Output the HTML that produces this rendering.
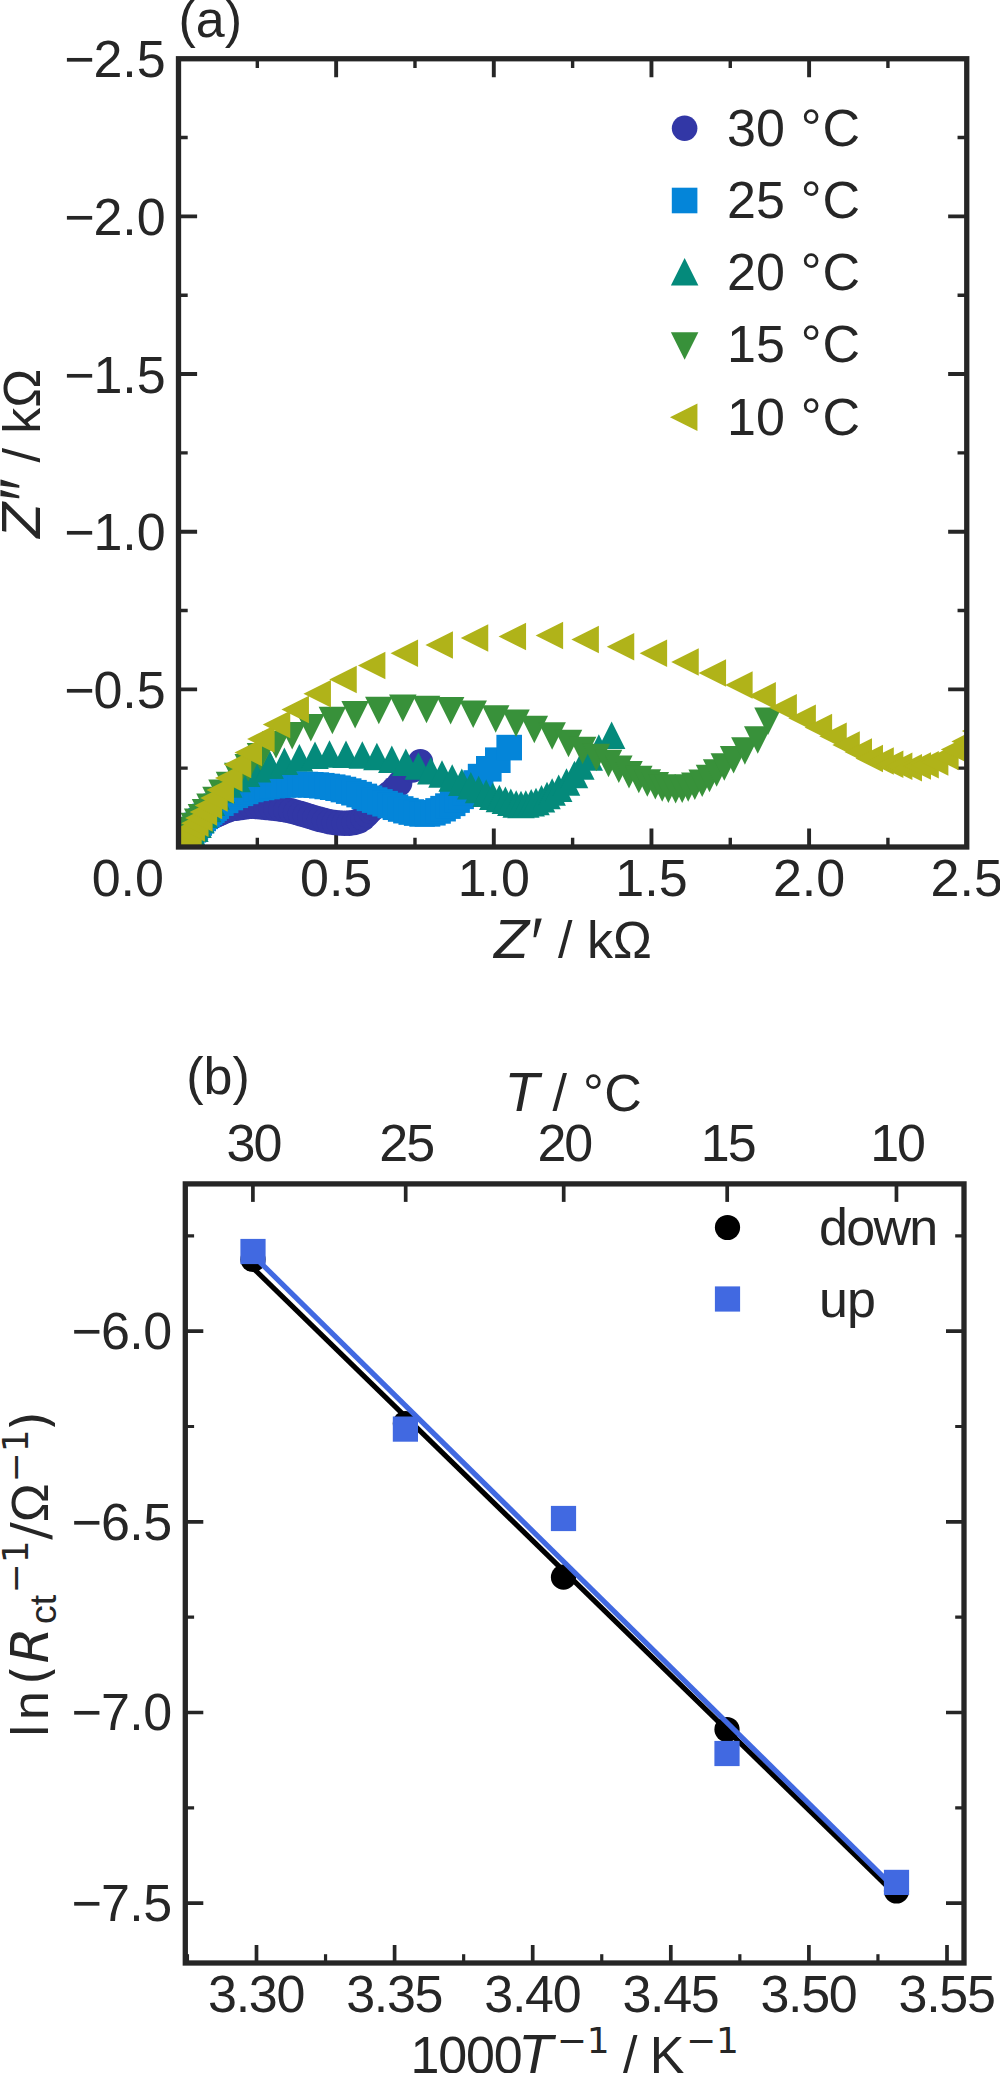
<!DOCTYPE html>
<html lang="en"><head><meta charset="utf-8"><title>Figure: Nyquist plots and Arrhenius plot</title>
<style>html,body{margin:0;padding:0;background:#fff}body{width:1000px;height:2073px;overflow:hidden}svg{display:block}text{font-family:"Liberation Sans", sans-serif;fill:#262626}.i{font-family:"DejaVu Sans","Liberation Sans",sans-serif;font-style:italic}.pr{font-style:italic;stroke:#fff;stroke-width:1.3px}</style></head><body>
<svg width="1000" height="2073" viewBox="0 0 1000 2073">
<rect width="1000" height="2073" fill="#fff"/>
<defs><clipPath id="ca"><rect x="178.5" y="58.75" width="788.25" height="788.25"/></clipPath></defs>
<g id="panel-a">
<g stroke="#262626" fill="none" stroke-linecap="butt"><path d="M257.32 847V837.8M257.32 58.75V67.95M178.5 768.17H187.7M966.75 768.17H957.55" stroke-width="3.4"/><path d="M336.15 847V828.4M336.15 58.75V77.35M178.5 689.35H197.1M966.75 689.35H948.15" stroke-width="3.9"/><path d="M414.98 847V837.8M414.98 58.75V67.95M178.5 610.52H187.7M966.75 610.52H957.55" stroke-width="3.4"/><path d="M493.8 847V828.4M493.8 58.75V77.35M178.5 531.7H197.1M966.75 531.7H948.15" stroke-width="3.9"/><path d="M572.62 847V837.8M572.62 58.75V67.95M178.5 452.88H187.7M966.75 452.88H957.55" stroke-width="3.4"/><path d="M651.45 847V828.4M651.45 58.75V77.35M178.5 374.05H197.1M966.75 374.05H948.15" stroke-width="3.9"/><path d="M730.27 847V837.8M730.27 58.75V67.95M178.5 295.23H187.7M966.75 295.23H957.55" stroke-width="3.4"/><path d="M809.1 847V828.4M809.1 58.75V77.35M178.5 216.4H197.1M966.75 216.4H948.15" stroke-width="3.9"/><path d="M887.93 847V837.8M887.93 58.75V67.95M178.5 137.57H187.7M966.75 137.57H957.55" stroke-width="3.4"/></g>
<g clip-path="url(#ca)"><g fill="#3237a6"><circle cx="179" cy="852" r="12.8"/><circle cx="180.72" cy="849.54" r="12.8"/><circle cx="182.44" cy="847.08" r="12.8"/><circle cx="184.16" cy="844.63" r="12.8"/><circle cx="185.88" cy="842.17" r="12.8"/><circle cx="187.6" cy="839.71" r="12.8"/><circle cx="189.32" cy="837.25" r="12.8"/><circle cx="191.04" cy="834.8" r="12.8"/><circle cx="192.76" cy="832.34" r="12.8"/><circle cx="194.97" cy="830.32" r="12.8"/><circle cx="197.25" cy="828.37" r="12.8"/><circle cx="199.53" cy="826.43" r="12.8"/><circle cx="201.82" cy="824.48" r="12.8"/><circle cx="204.1" cy="822.53" r="12.8"/><circle cx="206.38" cy="820.59" r="12.8"/><circle cx="208.66" cy="818.64" r="12.8"/><circle cx="211.14" cy="817.01" r="12.8"/><circle cx="213.9" cy="815.84" r="12.8"/><circle cx="216.67" cy="814.67" r="12.8"/><circle cx="219.43" cy="813.49" r="12.8"/><circle cx="222.19" cy="812.32" r="12.8"/><circle cx="226.79" cy="810.36" r="12.8"/><circle cx="231.5" cy="808.8" r="12.8"/><circle cx="236.45" cy="808.14" r="12.8"/><circle cx="241.41" cy="807.48" r="12.8"/><circle cx="246.37" cy="806.82" r="12.8"/><circle cx="251.32" cy="806.16" r="12.8"/><circle cx="256.29" cy="806.37" r="12.8"/><circle cx="261.27" cy="806.86" r="12.8"/><circle cx="266.25" cy="807.34" r="12.8"/><circle cx="271.22" cy="807.83" r="12.8"/><circle cx="276.19" cy="808.39" r="12.8"/><circle cx="281.13" cy="809.18" r="12.8"/><circle cx="286.06" cy="809.97" r="12.8"/><circle cx="290.98" cy="810.88" r="12.8"/><circle cx="295.78" cy="812.25" r="12.8"/><circle cx="300.59" cy="813.63" r="12.8"/><circle cx="305.39" cy="815.03" r="12.8"/><circle cx="310.17" cy="816.49" r="12.8"/><circle cx="314.95" cy="817.95" r="12.8"/><circle cx="319.73" cy="819.42" r="12.8"/><circle cx="324.6" cy="820.57" r="12.8"/><circle cx="329.47" cy="821.7" r="12.8"/><circle cx="334.4" cy="822.47" r="12.8"/><circle cx="339.37" cy="822.95" r="12.8"/><circle cx="344.36" cy="823.25" r="12.8"/><circle cx="349.35" cy="823.09" r="12.8"/><circle cx="354.28" cy="822.43" r="12.8"/><circle cx="358.97" cy="820.85" r="12.8"/><circle cx="363.13" cy="818.08" r="12.8"/><circle cx="366.74" cy="814.65" r="12.8"/><circle cx="370.21" cy="811.04" r="12.8"/><circle cx="373.07" cy="808.26" r="12.8"/><circle cx="376.37" cy="805.22" r="12.8"/><circle cx="380.05" cy="801.81" r="12.8"/><circle cx="384.18" cy="798" r="12.8"/><circle cx="388.81" cy="793.73" r="12.8"/><circle cx="393.99" cy="788.95" r="12.8"/><circle cx="399.53" cy="783.33" r="12.8"/><circle cx="412.6" cy="769.9" r="12.8"/><circle cx="420.4" cy="761.8" r="12.8"/></g><g fill="#0485d9"><rect x="165.2" y="839.2" width="25.6" height="25.6"/><rect x="166.88" y="836.71" width="25.6" height="25.6"/><rect x="168.56" y="834.23" width="25.6" height="25.6"/><rect x="170.24" y="831.74" width="25.6" height="25.6"/><rect x="171.91" y="829.25" width="25.6" height="25.6"/><rect x="173.59" y="826.77" width="25.6" height="25.6"/><rect x="175.27" y="824.28" width="25.6" height="25.6"/><rect x="176.95" y="821.79" width="25.6" height="25.6"/><rect x="178.63" y="819.31" width="25.6" height="25.6"/><rect x="180.57" y="817.03" width="25.6" height="25.6"/><rect x="182.53" y="814.75" width="25.6" height="25.6"/><rect x="184.49" y="812.48" width="25.6" height="25.6"/><rect x="186.45" y="810.21" width="25.6" height="25.6"/><rect x="188.41" y="807.94" width="25.6" height="25.6"/><rect x="190.37" y="805.66" width="25.6" height="25.6"/><rect x="192.47" y="803.53" width="25.6" height="25.6"/><rect x="194.67" y="801.49" width="25.6" height="25.6"/><rect x="196.88" y="799.46" width="25.6" height="25.6"/><rect x="199.08" y="797.42" width="25.6" height="25.6"/><rect x="201.29" y="795.39" width="25.6" height="25.6"/><rect x="203.49" y="793.36" width="25.6" height="25.6"/><rect x="208.09" y="790.37" width="25.6" height="25.6"/><rect x="212.8" y="787.54" width="25.6" height="25.6"/><rect x="217.52" y="784.71" width="25.6" height="25.6"/><rect x="222.52" y="782.46" width="25.6" height="25.6"/><rect x="227.67" y="780.53" width="25.6" height="25.6"/><rect x="232.82" y="778.59" width="25.6" height="25.6"/><rect x="237.97" y="776.66" width="25.6" height="25.6"/><rect x="243.33" y="775.52" width="25.6" height="25.6"/><rect x="248.75" y="774.62" width="25.6" height="25.6"/><rect x="254.18" y="773.73" width="25.6" height="25.6"/><rect x="259.6" y="772.83" width="25.6" height="25.6"/><rect x="265.07" y="772.28" width="25.6" height="25.6"/><rect x="270.56" y="772.06" width="25.6" height="25.6"/><rect x="276.06" y="771.84" width="25.6" height="25.6"/><rect x="281.55" y="771.61" width="25.6" height="25.6"/><rect x="287.05" y="771.41" width="25.6" height="25.6"/><rect x="292.54" y="771.71" width="25.6" height="25.6"/><rect x="298.03" y="772.01" width="25.6" height="25.6"/><rect x="303.52" y="772.31" width="25.6" height="25.6"/><rect x="308.99" y="772.92" width="25.6" height="25.6"/><rect x="314.44" y="773.66" width="25.6" height="25.6"/><rect x="319.89" y="774.4" width="25.6" height="25.6"/><rect x="325.28" y="775.42" width="25.6" height="25.6"/><rect x="330.62" y="776.75" width="25.6" height="25.6"/><rect x="335.89" y="778.31" width="25.6" height="25.6"/><rect x="341.15" y="779.92" width="25.6" height="25.6"/><rect x="346.33" y="781.77" width="25.6" height="25.6"/><rect x="351.5" y="783.64" width="25.6" height="25.6"/><rect x="356.67" y="785.52" width="25.6" height="25.6"/><rect x="361.87" y="787.32" width="25.6" height="25.6"/><rect x="367.07" y="789.1" width="25.6" height="25.6"/><rect x="372.28" y="790.88" width="25.6" height="25.6"/><rect x="377.48" y="792.66" width="25.6" height="25.6"/><rect x="382.69" y="794.43" width="25.6" height="25.6"/><rect x="387.9" y="796.19" width="25.6" height="25.6"/><rect x="393.14" y="797.85" width="25.6" height="25.6"/><rect x="398.46" y="799.24" width="25.6" height="25.6"/><rect x="403.86" y="800.28" width="25.6" height="25.6"/><rect x="409.29" y="801.14" width="25.6" height="25.6"/><rect x="414.7" y="801.08" width="25.6" height="25.6"/><rect x="420.08" y="799.95" width="25.6" height="25.6"/><rect x="425.24" y="798.13" width="25.6" height="25.6"/><rect x="430.26" y="795.87" width="25.6" height="25.6"/><rect x="435.11" y="793.31" width="25.6" height="25.6"/><rect x="439.87" y="790.55" width="25.6" height="25.6"/><rect x="444.26" y="787.29" width="25.6" height="25.6"/><rect x="448.29" y="783.55" width="25.6" height="25.6"/><rect x="452.34" y="779.82" width="25.6" height="25.6"/><rect x="456.4" y="776.12" width="25.6" height="25.6"/><rect x="463.4" y="770.2" width="25.6" height="25.6"/><rect x="467.8" y="763.8" width="25.6" height="25.6"/><rect x="476" y="756" width="25.6" height="25.6"/><rect x="485" y="747.4" width="25.6" height="25.6"/><rect x="496.4" y="734.8" width="25.6" height="25.6"/></g><g fill="#048a7b"><path d="M173.5 838.25L187.25 865.75H159.75Z"/><path d="M175.18 836.4L188.93 863.9H161.43Z"/><path d="M177 834.38L190.75 861.88H163.25Z"/><path d="M178.97 832.2L192.72 859.7H165.22Z"/><path d="M181.11 829.83L194.86 857.33H167.36Z"/><path d="M183.43 827.26L197.18 854.76H169.68Z"/><path d="M185.95 824.47L199.7 851.97H172.2Z"/><path d="M188.69 821.45L202.44 848.95H174.94Z"/><path d="M191.66 818.16L205.41 845.66H177.91Z"/><path d="M194.88 814.6L208.63 842.1H181.13Z"/><path d="M198.06 810.51L211.81 838.01H184.31Z"/><path d="M201 805.68L214.75 833.18H187.25Z"/><path d="M204.18 800.43L217.93 827.93H190.43Z"/><path d="M207.64 794.75L221.39 822.25H193.89Z"/><path d="M211.39 788.58L225.14 816.08H197.64Z"/><path d="M216.02 782.28L229.77 809.78H202.27Z"/><path d="M221.33 775.65L235.08 803.15H207.58Z"/><path d="M228.7 770.2L242.45 797.7H214.95Z"/><path d="M237.03 764.65L250.78 792.15H223.28Z"/><path d="M246.6 759.59L260.35 787.09H232.85Z"/><path d="M257.43 755.01L271.18 782.51H243.68Z"/><path d="M269.66 751.3L283.41 778.8H255.91Z"/><path d="M270 751.2L283.75 778.7H256.25Z"/><path d="M284.4 747.6L298.15 775.1H270.65Z"/><path d="M299.4 744L313.15 771.5H285.65Z"/><path d="M315 741.55L328.75 769.05H301.25Z"/><path d="M329.5 740.15L343.25 767.65H315.75Z"/><path d="M346 740.45L359.75 767.95H332.25Z"/><path d="M362.3 741.25L376.05 768.75H348.55Z"/><path d="M376.9 742.65L390.65 770.15H363.15Z"/><path d="M391.8 745.55L405.55 773.05H378.05Z"/><path d="M405.8 748.45L419.55 775.95H392.05Z"/><path d="M418.4 752.2L432.15 779.7H404.65Z"/><path d="M430.8 757L444.55 784.5H417.05Z"/><path d="M442 760.25L455.75 787.75H428.25Z"/><path d="M452.2 764.25L465.95 791.75H438.45Z"/><path d="M461.8 768.5L475.55 796H448.05Z"/><path d="M470.8 772.1L484.55 799.6H457.05Z"/><path d="M478.6 775.7L492.35 803.2H464.85Z"/><path d="M486.2 779.4L499.95 806.9H472.45Z"/><path d="M492.8 782.4L506.55 809.9H479.05Z"/><path d="M499.4 784.8L513.15 812.3H485.65Z"/><path d="M505.4 786.6L519.15 814.1H491.65Z"/><path d="M510.8 788.6L524.55 816.1H497.05Z"/><path d="M516.2 790.2L529.95 817.7H502.45Z"/><path d="M521 790.8L534.75 818.3H507.25Z"/><path d="M525.8 790.2L539.55 817.7H512.05Z"/><path d="M531.2 789L544.95 816.5H517.45Z"/><path d="M536 787.8L549.75 815.3H522.25Z"/><path d="M541.5 785.05L555.25 812.55H527.75Z"/><path d="M547 781.65L560.75 809.15H533.25Z"/><path d="M552.1 778.35L565.85 805.85H538.35Z"/><path d="M558.7 774.45L572.45 801.95H544.95Z"/><path d="M566.5 768.15L580.25 795.65H552.75Z"/><path d="M574.5 760.65L588.25 788.15H560.75Z"/><path d="M580.85 752.3L594.6 779.8H567.1Z"/><path d="M589.25 743.3L603 770.8H575.5Z"/><path d="M598.8 734.2L612.55 761.7H585.05Z"/><path d="M611.6 721.6L625.35 749.1H597.85Z"/></g><g fill="#38913a"><path d="M174 865.75L187.75 838.25H160.25Z"/><path d="M175.56 863.8L189.31 836.3H161.81Z"/><path d="M177.26 861.67L191.01 834.17H163.51Z"/><path d="M179.11 859.35L192.86 831.85H165.36Z"/><path d="M181.13 856.82L194.88 829.32H167.38Z"/><path d="M183.34 854.06L197.09 826.56H169.59Z"/><path d="M185.74 851.05L199.49 823.55H171.99Z"/><path d="M188.35 847.78L202.1 820.28H174.6Z"/><path d="M191.2 844.2L204.95 816.7H177.45Z"/><path d="M194.31 840.31L208.06 812.81H180.56Z"/><path d="M197.7 836.07L211.45 808.57H183.95Z"/><path d="M201.44 831.48L215.19 803.98H187.69Z"/><path d="M205.55 826.51L219.3 799.01H191.8Z"/><path d="M210.02 821.08L223.77 793.58H196.27Z"/><path d="M216 814.2L229.75 786.7H202.25Z"/><path d="M222 807L235.75 779.5H208.25Z"/><path d="M229.5 799.2L243.25 771.7H215.75Z"/><path d="M237.75 790.2L251.5 762.7H224Z"/><path d="M248.25 781.5L262 754H234.5Z"/><path d="M260.5 770.55L274.25 743.05H246.75Z"/><path d="M276 758.4L289.75 730.9H262.25Z"/><path d="M292.2 749.4L305.95 721.9H278.45Z"/><path d="M310.8 741.5L324.55 714H297.05Z"/><path d="M332.4 734.35L346.15 706.85H318.65Z"/><path d="M355.1 728.6L368.85 701.1H341.35Z"/><path d="M378.8 724.15L392.55 696.65H365.05Z"/><path d="M402.8 721.95L416.55 694.45H389.05Z"/><path d="M426.5 723.15L440.25 695.65H412.75Z"/><path d="M450.6 724.55L464.35 697.05H436.85Z"/><path d="M473.2 728.05L486.95 700.55H459.45Z"/><path d="M495.7 732.75L509.45 705.25H481.95Z"/><path d="M516 737.05L529.75 709.55H502.25Z"/><path d="M534.3 743.15L548.05 715.65H520.55Z"/><path d="M552.1 749.75L565.85 722.25H538.35Z"/><path d="M568.5 757.25L582.25 729.75H554.75Z"/><path d="M582.6 764.15L596.35 736.65H568.85Z"/><path d="M596.4 771.25L610.15 743.75H582.65Z"/><path d="M608.5 777.35L622.25 749.85H594.75Z"/><path d="M618.8 783.05L632.55 755.55H605.05Z"/><path d="M629 788.55L642.75 761.05H615.25Z"/><path d="M638.8 793.15L652.55 765.65H625.05Z"/><path d="M647.3 796.75L661.05 769.25H633.55Z"/><path d="M655.3 799.5L669.05 772H641.55Z"/><path d="M662.2 801.8L675.95 774.3H648.45Z"/><path d="M668.4 803L682.15 775.5H654.65Z"/><path d="M675.6 803.6L689.35 776.1H661.85Z"/><path d="M682.2 803L695.95 775.5H668.45Z"/><path d="M688.2 801.8L701.95 774.3H674.45Z"/><path d="M694.8 800L708.55 772.5H681.05Z"/><path d="M702.2 796.95L715.95 769.45H688.45Z"/><path d="M709.5 792.15L723.25 764.65H695.75Z"/><path d="M716.6 786.75L730.35 759.25H702.85Z"/><path d="M724.3 780.75L738.05 753.25H710.55Z"/><path d="M733.6 773.6L747.35 746.1H719.85Z"/><path d="M744.9 764.65L758.65 737.15H731.15Z"/><path d="M757.75 753.85L771.5 726.35H744Z"/><path d="M768 734.95L781.75 707.45H754.25Z"/></g><g fill="#b0b319"><path d="M159.15 852L186.65 838.25V865.75Z"/><path d="M160.67 850.01L188.17 836.26V863.76Z"/><path d="M162.35 847.79L189.85 834.04V861.54Z"/><path d="M164.24 845.32L191.74 831.57V859.07Z"/><path d="M166.34 842.57L193.84 828.82V856.32Z"/><path d="M168.68 839.49L196.18 825.74V853.24Z"/><path d="M171.29 836.07L198.79 822.32V849.82Z"/><path d="M174.2 832.25L201.7 818.5V846Z"/><path d="M177.45 827.98L204.95 814.23V841.73Z"/><path d="M181.07 823.23L208.57 809.48V836.98Z"/><path d="M185.1 817.94L212.6 804.19V831.69Z"/><path d="M189.6 812.03L217.1 798.28V825.78Z"/><path d="M194.61 805.44L222.11 791.69V819.19Z"/><path d="M200.2 798.09L227.7 784.34V811.84Z"/><path d="M206.43 789.9L233.93 776.15V803.65Z"/><path d="M215 778L242.5 764.25V791.75Z"/><path d="M223.75 764.5L251.25 750.75V778.25Z"/><path d="M234.5 752.5L262 738.75V766.25Z"/><path d="M247.15 739L274.65 725.25V752.75Z"/><path d="M262.75 724.6L290.25 710.85V738.35Z"/><path d="M281.45 709.5L308.95 695.75V723.25Z"/><path d="M303.45 693.8L330.95 680.05V707.55Z"/><path d="M329.25 679.4L356.75 665.65V693.15Z"/><path d="M357.85 665.5L385.35 651.75V679.25Z"/><path d="M390.55 653.3L418.05 639.55V667.05Z"/><path d="M425.45 645.1L452.95 631.35V658.85Z"/><path d="M460.75 638.1L488.25 624.35V651.85Z"/><path d="M498.55 636.4L526.05 622.65V650.15Z"/><path d="M535.65 635.6L563.15 621.85V649.35Z"/><path d="M571.35 639.5L598.85 625.75V653.25Z"/><path d="M606.75 646.7L634.25 632.95V660.45Z"/><path d="M639.65 653.2L667.15 639.45V666.95Z"/><path d="M671.25 662L698.75 648.25V675.75Z"/><path d="M698.55 672.9L726.05 659.15V686.65Z"/><path d="M725.15 684.9L752.65 671.15V698.65Z"/><path d="M748.35 695.7L775.85 681.95V709.45Z"/><path d="M769.35 707.7L796.85 693.95V721.45Z"/><path d="M788.35 718.3L815.85 704.55V732.05Z"/><path d="M804.65 727.5L832.15 713.75V741.25Z"/><path d="M819.25 736.3L846.75 722.55V750.05Z"/><path d="M832.3 744.95L859.8 731.2V758.7Z"/><path d="M844.5 751.95L872 738.2V765.7Z"/><path d="M855.5 758.5L883 744.75V772.25Z"/><path d="M866.3 760.9L893.8 747.15V774.65Z"/><path d="M875.9 764.2L903.4 750.45V777.95Z"/><path d="M884.9 766.3L912.4 752.55V780.05Z"/><path d="M894.5 767.8L922 754.05V781.55Z"/><path d="M903.5 766.05L931 752.3V779.8Z"/><path d="M911.3 764.85L938.8 751.1V778.6Z"/><path d="M920.9 762.05L948.4 748.3V775.8Z"/><path d="M931.1 756.45L958.6 742.7V770.2Z"/><path d="M940.75 749.5L968.25 735.75V763.25Z"/><path d="M951.4 741.4L978.9 727.65V755.15Z"/><path d="M961.75 731L989.25 717.25V744.75Z"/></g></g>
<rect x="178.5" y="58.75" width="788.25" height="788.25" stroke="#262626" fill="none" stroke-width="5.3"/>
<text x="178.4" y="36.6" text-anchor="start" font-size="52" >(a)</text>
<text x="165.7" y="77.35" text-anchor="end" font-size="52"><tspan letter-spacing="-1.2">−</tspan>2.5</text>
<text x="165.7" y="235" text-anchor="end" font-size="52"><tspan letter-spacing="-1.2">−</tspan>2.0</text>
<text x="165.7" y="392.65" text-anchor="end" font-size="52"><tspan letter-spacing="-1.2">−</tspan>1.5</text>
<text x="165.7" y="550.3" text-anchor="end" font-size="52"><tspan letter-spacing="-1.2">−</tspan>1.0</text>
<text x="165.7" y="707.95" text-anchor="end" font-size="52"><tspan letter-spacing="-1.2">−</tspan>0.5</text>
<text x="164" y="896.4" text-anchor="end" font-size="52" >0.0</text>
<text x="336.15" y="896.4" text-anchor="middle" font-size="52" >0.5</text>
<text x="493.8" y="896.4" text-anchor="middle" font-size="52" >1.0</text>
<text x="651.45" y="896.4" text-anchor="middle" font-size="52" >1.5</text>
<text x="809.1" y="896.4" text-anchor="middle" font-size="52" >2.0</text>
<text x="966.75" y="896.4" text-anchor="middle" font-size="52" >2.5</text>
<text transform="translate(494 957.5)" font-size="52"><tspan x="0" y="0" font-size="52" class="i">Z</tspan><tspan x="31.45" y="15" font-size="80" class="pr">′</tspan><tspan x="64" y="0" font-size="52">/ kΩ</tspan></text>
<text transform="translate(40 537.7) rotate(-90)" font-size="52"><tspan x="0" y="0" font-size="52" class="i">Z</tspan><tspan x="31.45" y="15" font-size="80" class="pr">′</tspan><tspan x="41.95" y="15" font-size="80" class="pr">′</tspan><tspan x="75.1" y="0" font-size="52">/ kΩ</tspan></text>
<g fill="#3237a6"><circle cx="684.6" cy="128.3" r="12.8"/></g>
<text x="727" y="145.7" font-size="52">30 <tspan dx="1.5">°</tspan><tspan dx="1">C</tspan></text>
<g fill="#0485d9"><rect x="671.8" y="187.7" width="25.6" height="25.6"/></g>
<text x="727" y="217.9" font-size="52">25 <tspan dx="1.5">°</tspan><tspan dx="1">C</tspan></text>
<g fill="#048a7b"><path d="M684.6 257.95L698.35 285.45H670.85Z"/></g>
<text x="727" y="290.1" font-size="52">20 <tspan dx="1.5">°</tspan><tspan dx="1">C</tspan></text>
<g fill="#38913a"><path d="M684.6 359.65L698.35 332.15H670.85Z"/></g>
<text x="727" y="362.3" font-size="52">15 <tspan dx="1.5">°</tspan><tspan dx="1">C</tspan></text>
<g fill="#b0b319"><path d="M669.95 417.3L697.45 403.55V431.05Z"/></g>
<text x="727" y="434.5" font-size="52">10 <tspan dx="1.5">°</tspan><tspan dx="1">C</tspan></text>
</g>
<g id="panel-b">
<g stroke="#262626" fill="none"><path d="M187.45 1963V1954.2" stroke-width="3.2"/><path d="M256.5 1963V1945" stroke-width="3.7"/><path d="M325.55 1963V1954.2" stroke-width="3.2"/><path d="M394.6 1963V1945" stroke-width="3.7"/><path d="M463.65 1963V1954.2" stroke-width="3.2"/><path d="M532.7 1963V1945" stroke-width="3.7"/><path d="M601.75 1963V1954.2" stroke-width="3.2"/><path d="M670.8 1963V1945" stroke-width="3.7"/><path d="M739.85 1963V1954.2" stroke-width="3.2"/><path d="M808.9 1963V1945" stroke-width="3.7"/><path d="M877.95 1963V1954.2" stroke-width="3.2"/><path d="M947 1963V1945" stroke-width="3.7"/><path d="M252.9 1183.9V1201.9" stroke-width="3.7"/><path d="M405.69 1183.9V1201.9" stroke-width="3.7"/><path d="M563.7 1183.9V1201.9" stroke-width="3.7"/><path d="M727.19 1183.9V1201.9" stroke-width="3.7"/><path d="M896.45 1183.9V1201.9" stroke-width="3.7"/><path d="M185.3 1235.82H194.1M964 1235.82H955.2" stroke-width="3.2"/><path d="M185.3 1331.15H203.3M964 1331.15H946" stroke-width="3.7"/><path d="M185.3 1426.48H194.1M964 1426.48H955.2" stroke-width="3.2"/><path d="M185.3 1521.82H203.3M964 1521.82H946" stroke-width="3.7"/><path d="M185.3 1617.15H194.1M964 1617.15H955.2" stroke-width="3.2"/><path d="M185.3 1712.48H203.3M964 1712.48H946" stroke-width="3.7"/><path d="M185.3 1807.81H194.1M964 1807.81H955.2" stroke-width="3.2"/><path d="M185.3 1903.14H203.3M964 1903.14H946" stroke-width="3.7"/></g>
<g fill="#000"><circle cx="253" cy="1259.5" r="12.6"/><circle cx="405.4" cy="1423.5" r="12.6"/><circle cx="563.5" cy="1577.2" r="12.6"/><circle cx="727" cy="1729.5" r="12.6"/><circle cx="896.5" cy="1891" r="12.6"/></g><path d="M253 1268L896.5 1895.34" stroke="#000" stroke-width="5.2" fill="none"/><path d="M253 1255.3L896.5 1889.88" stroke="#4169e1" stroke-width="5.2" fill="none"/><g fill="#4169e1"><rect x="240.4" y="1238.9" width="25.2" height="25.2"/><rect x="392.8" y="1416.5" width="25.2" height="25.2"/><rect x="550.9" y="1505.9" width="25.2" height="25.2"/><rect x="714.4" y="1740.9" width="25.2" height="25.2"/><rect x="883.9" y="1869.8" width="25.2" height="25.2"/></g>
<rect x="185.3" y="1183.9" width="778.7" height="779.1" stroke="#262626" fill="none" stroke-width="5.3"/>
<text x="186.3" y="1094" text-anchor="start" font-size="52" >(b)</text>
<text transform="translate(507.3 1111)" font-size="52"><tspan x="0" y="0" font-size="52" class="i">T</tspan><tspan x="45.2" y="0" font-size="52">/</tspan><tspan x="75.7" y="0" font-size="52">°</tspan><tspan x="97" y="0" font-size="52">C</tspan></text>
<text x="253.5" y="1161" text-anchor="middle" font-size="52" letter-spacing="-2.0">30</text>
<text x="406.29" y="1161" text-anchor="middle" font-size="52" letter-spacing="-2.0">25</text>
<text x="564.3" y="1161" text-anchor="middle" font-size="52" letter-spacing="-2.0">20</text>
<text x="727.79" y="1161" text-anchor="middle" font-size="52" letter-spacing="-2.0">15</text>
<text x="897.05" y="1161" text-anchor="middle" font-size="52" letter-spacing="-2.0">10</text>
<text x="171.5" y="1348.95" text-anchor="end" font-size="52" letter-spacing="-0.6"><tspan letter-spacing="-0.8">−</tspan>6.0</text>
<text x="171.5" y="1539.62" text-anchor="end" font-size="52" letter-spacing="-0.6"><tspan letter-spacing="-0.8">−</tspan>6.5</text>
<text x="171.5" y="1730.28" text-anchor="end" font-size="52" letter-spacing="-0.6"><tspan letter-spacing="-0.8">−</tspan>7.0</text>
<text x="171.5" y="1920.94" text-anchor="end" font-size="52" letter-spacing="-0.6"><tspan letter-spacing="-0.8">−</tspan>7.5</text>
<text x="256.1" y="2012" text-anchor="middle" font-size="52" letter-spacing="-1.3">3.30</text>
<text x="394.2" y="2012" text-anchor="middle" font-size="52" letter-spacing="-1.3">3.35</text>
<text x="532.3" y="2012" text-anchor="middle" font-size="52" letter-spacing="-1.3">3.40</text>
<text x="670.4" y="2012" text-anchor="middle" font-size="52" letter-spacing="-1.3">3.45</text>
<text x="808.5" y="2012" text-anchor="middle" font-size="52" letter-spacing="-1.3">3.50</text>
<text x="946.6" y="2012" text-anchor="middle" font-size="52" letter-spacing="-1.3">3.55</text>
<text transform="translate(0 2072.8)" font-size="52"><tspan x="410.5" y="0" font-size="52"><tspan letter-spacing="-1.2">1000</tspan></tspan><tspan x="521.1" y="0" font-size="52" class="i">T</tspan><tspan x="556.7" y="-19.8" font-size="36" font-family='"DejaVu Sans", "Liberation Sans", sans-serif'>−1</tspan><tspan x="623" y="0" font-size="52">/</tspan><tspan x="649.7" y="0" font-size="52">K</tspan><tspan x="685.9" y="-19.8" font-size="36" font-family='"DejaVu Sans", "Liberation Sans", sans-serif'>−1</tspan></text>
<text transform="translate(48 1733.4) rotate(-90)" font-size="52"><tspan x="-3" y="0" font-size="52">l</tspan><tspan x="13.5" y="0" font-size="52">n</tspan><tspan x="48.1" y="0" font-size="52" font-family='"DejaVu Sans", "Liberation Sans", sans-serif'>(</tspan><tspan x="70" y="0" font-size="52" class="i">R</tspan><tspan x="109.3" y="8" font-size="37.5">ct</tspan><tspan x="140" y="-19.8" font-size="36" font-family='"DejaVu Sans", "Liberation Sans", sans-serif'>−1</tspan><tspan x="193.6" y="0" font-size="52" font-family='"DejaVu Sans", "Liberation Sans", sans-serif'>/</tspan><tspan x="211.2" y="0" font-size="52">Ω</tspan><tspan x="250.9" y="-19.8" font-size="36" font-family='"DejaVu Sans", "Liberation Sans", sans-serif'>−1</tspan><tspan x="302.2" y="0" font-size="52" font-family='"DejaVu Sans", "Liberation Sans", sans-serif'>)</tspan></text>
<circle cx="727.5" cy="1227.5" r="12.6" fill="#000"/>
<rect x="714.9" y="1286.4" width="25.2" height="25.2" fill="#4169e1"/>
<text x="819" y="1245" text-anchor="start" font-size="52" letter-spacing="-1.7">down</text>
<text x="819" y="1316.5" text-anchor="start" font-size="52" letter-spacing="-1">up</text>
</g>
</svg></body></html>
